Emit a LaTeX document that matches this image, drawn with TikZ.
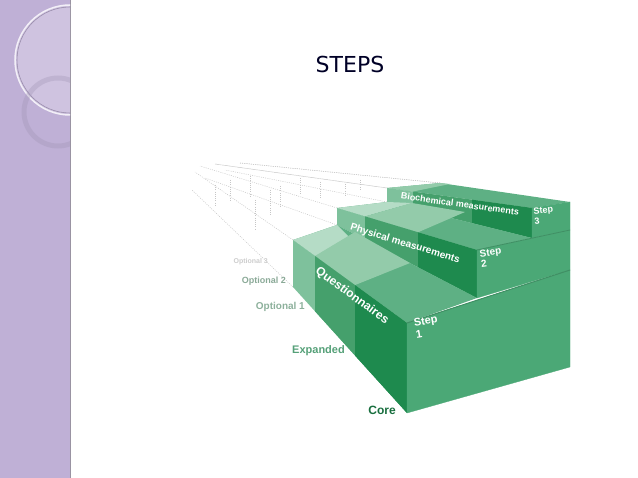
\documentclass[tikz,border=0pt]{standalone}
\usepackage{fontspec}
\setmainfont{Liberation Sans}
\newfontfamily\titlefont{DejaVu Sans}
\begin{document}
\begin{tikzpicture}[x=1pt,y=-1pt,
  lbl/.style={font=\bfseries, inner sep=0pt},
  wt/.style={font=\bfseries, text=white, inner sep=0pt},
  wire/.style={draw=gray!45, dash pattern=on 1pt off 1.2pt, line width=0.5pt}]
\useasboundingbox (0,0) rectangle (638,478);
\definecolor{pur}{HTML}{BFB0D6}
\definecolor{dk}{HTML}{1E8A4E}
\definecolor{md}{HTML}{45A06C}
\definecolor{lt}{HTML}{7EC19C}
\definecolor{fr}{HTML}{4BA876}
\definecolor{tpA}{HTML}{B5DCC6}
\definecolor{tpB}{HTML}{93CBAA}
\definecolor{tpC}{HTML}{5EB084}
% left panel
\fill[pur] (0,0) rectangle (70,478);
\draw[gray!60!pur, line width=0.8pt] (70,0) -- (70,478);
\begin{scope}
\clip (0,0) rectangle (70,478);
\fill[white, opacity=0.25] (70,60) circle (55);
\draw[white!80!pur, line width=1.5pt] (70,60) circle (55);
\draw[pur!80!black, line width=0.6pt] (70,60) circle (53);
\draw[pur!85!black, line width=5pt, opacity=0.35] (58,112) circle (34);
\end{scope}
% title
\node[font=\titlefont\fontsize{22}{24}\selectfont, text=black!85!blue] (title) at (350,64) {STEPS};
% wireframe
\foreach \a/\b/\c/\d in {293/240/195/172, 337/208/200/166, 387/188/215/164, 293/287/192/190, 337/225/205/178, 440/183/240/163, 387/202/225/170}{
  \path[wire] (\a,\b) -- (\c,\d);}
\foreach \x/\y/\h in {230/180/22, 250/176/20, 270/190/26, 300/178/16, 320/182/16, 345/184/12, 360/180/10, 255/200/30, 280/186/22, 215/185/20}{
  \path[wire] (\x,\y) -- (\x,\y+\h);}
\path[wire] (240,163) -- (440,183);
\path[wire] (215,164) -- (387,188);
% step 3
\fill[tpC] (387,188) -- (532,208) -- (570,202) -- (440,183) -- cycle;
\fill[tpB] (387,188) -- (413,191.5) -- (450,184) -- (440,183) -- cycle;
\fill[lt] (387,188) -- (532,208) -- (532,238) -- (387,202) -- cycle;
\fill[md] (413,191.6) -- (532,208) -- (532,238) -- (413,208.5) -- cycle;
\fill[dk] (472,199.7) -- (532,208) -- (532,238) -- (472,223) -- cycle;
\filldraw[fr, line width=0.3pt] (532,208) -- (570,202) -- (570,230) -- (532,238) -- cycle;
% step 2
\fill[tpC] (337,208) -- (477,250) -- (532,238) -- (387,202) -- cycle;
\fill[tpA] (337,208) -- (365,216.4) -- (412,203) -- (387,202) -- cycle;
\fill[tpB] (365,216.4) -- (418,232.3) -- (465,212) -- (412,203) -- cycle;
\fill[lt] (337,208) -- (477,250) -- (477,298) -- (337,225) -- cycle;
\fill[md] (365,216.4) -- (477,250) -- (477,298) -- (365,239.6) -- cycle;
\fill[dk] (418,232.3) -- (477,250) -- (477,298) -- (418,267.2) -- cycle;
\filldraw[fr, line width=0.3pt] (477,250) -- (570,230) -- (570,270) -- (477,298) -- cycle;
% step 1
\fill[tpC] (293,240) -- (407,323) -- (477,298) -- (337,225) -- cycle;
\fill[tpA] (293,240) -- (315,256) -- (355,243) -- (337,225) -- cycle;
\fill[tpB] (315,256) -- (355,285.1) -- (410,263) -- (355,232) -- cycle;
\fill[lt] (293,240) -- (407,323) -- (407,413) -- (293,287) -- cycle;
\fill[md] (315,256) -- (407,323) -- (407,413) -- (315,311.3) -- cycle;
\fill[dk] (355,285.1) -- (407,323) -- (407,413) -- (355,355.5) -- cycle;
\filldraw[fr, line width=0.3pt] (407,323) -- (570,270) -- (570,367) -- (407,413) -- cycle;
\draw[fr!85!black, line width=1pt] (407,323) -- (570,270);
\draw[fr!85!black, line width=0.8pt] (477,250) -- (570,230);
% texts on blocks
\node[wt, font=\bfseries\fontsize{12}{12}\selectfont, rotate=-36] (q) at (352,296) {Questionnaires};
\node[wt, font=\bfseries\fontsize{10}{10}\selectfont, rotate=-17] (pm) at (405,244) {Physical measurements};
\node[wt, font=\bfseries\fontsize{9}{9}\selectfont, rotate=-8] (bm) at (460,204) {Biochemical measurements};
\node[wt, font=\bfseries\fontsize{11}{12}\selectfont, align=left, anchor=north west, rotate=10] (s1) at (413,319) {Step\\1};
\node[wt, font=\bfseries\fontsize{10}{11}\selectfont, align=left, anchor=north west, rotate=8] (s2) at (479,250) {Step\\2};
\node[wt, font=\bfseries\fontsize{9}{10}\selectfont, align=left, anchor=north west, rotate=6] (s3) at (533,208) {Step\\3};
% side labels
\node[lbl, font=\bfseries\fontsize{7}{7}\selectfont, text=gray!40, anchor=east] (o3) at (268,262) {Optional 3};
\node[lbl, font=\bfseries\fontsize{9}{9}\selectfont, text=gray!45!tpB, anchor=east] (o2) at (286,281) {Optional 2};
\node[lbl, font=\bfseries\fontsize{10}{10}\selectfont, text=gray!35!tpB, anchor=east] (o1) at (305,307) {Optional 1};
\node[lbl, font=\bfseries\fontsize{11}{11}\selectfont, text=fr!80!gray, anchor=east] (ex) at (345,351) {Expanded};
\node[lbl, font=\bfseries\fontsize{12}{12}\selectfont, text=dk!80!black, anchor=east] (co) at (396,410) {Core};
\end{tikzpicture}
\end{document}
